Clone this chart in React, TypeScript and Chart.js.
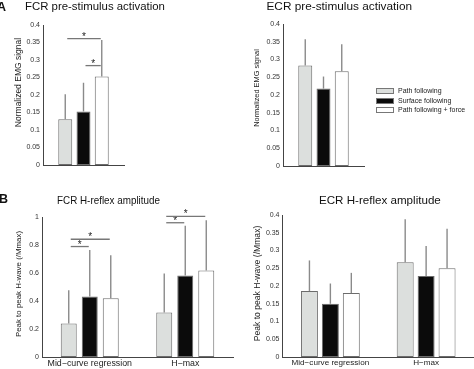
import React, { useEffect, useRef } from "react";
import { Chart, registerables } from "chart.js";

Chart.register(...registerables);
Chart.defaults.font.family = "'Liberation Sans', Arial, Helvetica, sans-serif";

// ---------- DATA ----------
const conditions = ["Path following", "Surface following", "Path following + force"];
const fillColors = ["#dcdfdd", "#0b0b0b", "#ffffff"];

const preCategories = [""];
// FCR pre-stimulus activation (per condition)
const fcrPrePath = [0.131];
const fcrPreSurface = [0.153];
const fcrPreForce = [0.253];
const fcrPrePathErr = [0.202];
const fcrPreSurfaceErr = [0.235];
const fcrPreForceErr = [0.357];

// ECR pre-stimulus activation
const ecrPrePath = [0.283];
const ecrPreSurface = [0.218];
const ecrPreForce = [0.267];
const ecrPrePathErr = [0.357];
const ecrPreSurfaceErr = [0.252];
const ecrPreForceErr = [0.343];

const hCategories = ["Mid\u2212curve regression", "H\u2212max"];
// FCR H-reflex amplitude
const fcrHPath = [0.239, 0.317];
const fcrHSurface = [0.433, 0.583];
const fcrHForce = [0.419, 0.618];
const fcrHPathErr = [0.476, 0.597];
const fcrHSurfaceErr = [0.765, 0.938];
const fcrHForceErr = [0.727, 0.976];

// ECR H-reflex amplitude
const ecrHPath = [0.186, 0.267];
const ecrHSurface = [0.15, 0.228];
const ecrHForce = [0.18, 0.25];
const ecrHPathErr = [0.272, 0.388];
const ecrHSurfaceErr = [0.207, 0.313];
const ecrHForceErr = [0.237, 0.361];

// significance brackets: category index, from condition, to condition, level
type Sig = { cat: number; from: number; to: number; level: number };
const fcrPreSig: Sig[] = [
  { cat: 0, from: 0, to: 2, level: 0.361 },
  { cat: 0, from: 1, to: 2, level: 0.284 },
];
const fcrHSig: Sig[] = [
  { cat: 0, from: 0, to: 1, level: 0.789 },
  { cat: 0, from: 0, to: 2, level: 0.841 },
  { cat: 1, from: 0, to: 1, level: 0.959 },
  { cat: 1, from: 0, to: 2, level: 1.004 },
];

const preYTicks = { max: 0.4, step: 0.05 };
const hFcrYTicks = { max: 1, step: 0.2 };
const hEcrYTicks = { max: 0.4, step: 0.05 };

// ---------- PANEL ----------
type PanelProps = {
  left: number;
  top: number;
  width: number;
  height: number;
  padTop: number;
  padRight: number;
  yWidth: number;
  xHeight: number;
  categories: string[];
  series: number[][];
  errs: number[][];
  sig: Sig[];
  yMax: number;
  yStep: number;
  yTitle: string;
  yTitleFont: number;
  yTitleX: number;
  yTitleY: number;
  tickFont: number;
  xFont: number;
  showX: boolean;
  catPct: number;
  barPct: number;
};

function Panel(p: PanelProps) {
  const ref = useRef<HTMLCanvasElement | null>(null);
  useEffect(() => {
    if (!ref.current) return;
    const overlay = {
      id: "overlay",
      afterDatasetsDraw(chart: any) {
        const ctx = chart.ctx;
        const y = chart.scales.y;
        ctx.save();
        ctx.strokeStyle = "#8a8a8a";
        ctx.lineWidth = 1.4;
        chart.data.datasets.forEach((_ds: any, di: number) => {
          const meta = chart.getDatasetMeta(di);
          meta.data.forEach((el: any, i: number) => {
            const t = y.getPixelForValue(p.errs[di][i]);
            ctx.beginPath();
            ctx.moveTo(el.x, el.y);
            ctx.lineTo(el.x, t);
            ctx.stroke();
          });
        });
        ctx.strokeStyle = "#777";
        ctx.lineWidth = 1.3;
        ctx.fillStyle = "#222";
        ctx.font = "10px 'Liberation Sans', Arial, sans-serif";
        ctx.textAlign = "center";
        ctx.textBaseline = "alphabetic";
        p.sig.forEach((s) => {
          const x1 = chart.getDatasetMeta(s.from).data[s.cat].x + 2;
          const x2 = chart.getDatasetMeta(s.to).data[s.cat].x - 1;
          const yy = y.getPixelForValue(s.level);
          ctx.beginPath();
          ctx.moveTo(x1, yy);
          ctx.lineTo(x2, yy);
          ctx.stroke();
          ctx.fillText("*", (x1 + x2) / 2, yy + 1);
        });
        ctx.restore();
      },
      afterDraw(chart: any) {
        const ctx = chart.ctx;
        ctx.save();
        ctx.translate(p.yTitleX, p.yTitleY);
        ctx.rotate(-Math.PI / 2);
        ctx.fillStyle = "#222";
        ctx.font = `${p.yTitleFont}px 'Liberation Sans', Arial, sans-serif`;
        ctx.textAlign = "center";
        ctx.textBaseline = "middle";
        ctx.fillText(p.yTitle, 0, 0);
        ctx.restore();
      },
    };
    const chart = new Chart(ref.current, {
      type: "bar",
      data: {
        labels: p.categories,
        datasets: conditions.map((c, i) => ({
          label: c,
          data: p.series[i],
          backgroundColor: fillColors[i],
          borderColor: "#6c6c6c",
          borderWidth: 1,
          borderSkipped: false,
          categoryPercentage: p.catPct,
          barPercentage: p.barPct,
        })),
      },
      options: {
        responsive: false,
        animation: false,
        events: [],
        layout: { padding: { top: p.padTop, right: p.padRight, left: 0, bottom: 0 } },
        plugins: { legend: { display: false }, tooltip: { enabled: false } },
        scales: {
          x: {
            grid: { display: false, drawTicks: false },
            border: { display: true, color: "#444", width: 1 },
            ticks: {
              display: p.showX,
              font: { size: p.xFont, lineHeight: 1 },
              color: "#222",
              padding: 2,
              maxRotation: 0,
              autoSkip: false,
            },
            afterFit: (s: any) => {
              s.height = p.xHeight;
            },
          },
          y: {
            min: 0,
            max: p.yMax,
            grid: { display: false, drawTicks: false },
            border: { display: true, color: "#444", width: 1 },
            ticks: {
              stepSize: p.yStep,
              font: { size: p.tickFont },
              color: "#333",
              padding: 3,
              callback: (v: any) => String(Math.round(Number(v) * 100) / 100),
            },
            afterFit: (s: any) => {
              s.width = p.yWidth;
            },
          },
        },
      } as any,
      plugins: [overlay],
    });
    return () => chart.destroy();
  }, []);
  return (
    <canvas
      ref={ref}
      width={p.width}
      height={p.height}
      style={{ position: "absolute", left: p.left, top: p.top, width: p.width, height: p.height }}
    />
  );
}

const titleStyle = (left: number, top: number, size: number, bold = false): React.CSSProperties => ({
  position: "absolute",
  left,
  top,
  fontSize: size,
  lineHeight: 1,
  whiteSpace: "nowrap",
  fontWeight: bold ? "bold" : "normal",
  color: "#111",
});

export default function App() {
  return (
    <div
      style={{
        position: "absolute",
        left: 0,
        top: 0,
        width: 474,
        height: 369,
        background: "#fff",
        overflow: "hidden",
        fontFamily: "'Liberation Sans', Arial, Helvetica, sans-serif",
      }}
    >
      <Panel
        left={0}
        top={0}
        width={240}
        height={185}
        padTop={25}
        padRight={116}
        yWidth={43}
        xHeight={20}
        categories={preCategories}
        series={[fcrPrePath, fcrPreSurface, fcrPreForce]}
        errs={[fcrPrePathErr, fcrPreSurfaceErr, fcrPreForceErr]}
        sig={fcrPreSig}
        yMax={preYTicks.max}
        yStep={preYTicks.step}
        yTitle="Normalized EMG signal"
        yTitleFont={8.5}
        yTitleX={19}
        yTitleY={82.5}
        tickFont={7}
        xFont={9}
        showX={false}
        catPct={0.676}
        barPct={0.765}
      />
      <Panel
        left={240}
        top={0}
        width={234}
        height={185}
        padTop={24}
        padRight={110}
        yWidth={43}
        xHeight={19}
        categories={preCategories}
        series={[ecrPrePath, ecrPreSurface, ecrPreForce]}
        errs={[ecrPrePathErr, ecrPreSurfaceErr, ecrPreForceErr]}
        sig={[]}
        yMax={preYTicks.max}
        yStep={preYTicks.step}
        yTitle="Normalized EMG signal"
        yTitleFont={7.4}
        yTitleX={16.5}
        yTitleY={88}
        tickFont={7}
        xFont={9}
        showX={false}
        catPct={0.676}
        barPct={0.765}
      />
      <Panel
        left={0}
        top={185}
        width={240}
        height={184}
        padTop={32}
        padRight={7}
        yWidth={42}
        xHeight={12}
        categories={hCategories}
        series={[fcrHPath, fcrHSurface, fcrHForce]}
        errs={[fcrHPathErr, fcrHSurfaceErr, fcrHForceErr]}
        sig={fcrHSig}
        yMax={hFcrYTicks.max}
        yStep={hFcrYTicks.step}
        yTitle="Peak to peak H-wave (/Mmax)"
        yTitleFont={7.9}
        yTitleX={19}
        yTitleY={99}
        tickFont={7}
        xFont={8.8}
        showX={true}
        catPct={0.66}
        barPct={0.76}
      />
      <Panel
        left={240}
        top={185}
        width={234}
        height={184}
        padTop={30}
        padRight={0}
        yWidth={42.5}
        xHeight={12}
        categories={hCategories}
        series={[ecrHPath, ecrHSurface, ecrHForce]}
        errs={[ecrHPathErr, ecrHSurfaceErr, ecrHForceErr]}
        sig={[]}
        yMax={hEcrYTicks.max}
        yStep={hEcrYTicks.step}
        yTitle="Peak to peak H-wave (/Mmax)"
        yTitleFont={8.6}
        yTitleX={17.5}
        yTitleY={98.5}
        tickFont={7}
        xFont={8.1}
        showX={true}
        catPct={0.656}
        barPct={0.81}
      />

      <div style={titleStyle(-3, 1, 12.5, true)}>A</div>
      <div style={titleStyle(25, 1.2, 11.4)}>FCR pre-stimulus activation</div>
      <div style={titleStyle(266.5, 1.2, 11.8)}>ECR pre-stimulus activation</div>
      <div style={titleStyle(-1, 193, 12.5, true)}>B</div>
      <div style={{ ...titleStyle(57, 193.5, 11.6), transform: "scaleX(0.85)", transformOrigin: "left top" }}>
        FCR H-reflex amplitude
      </div>
      <div style={titleStyle(319, 193.5, 11.6)}>ECR H-reflex amplitude</div>

      {conditions.map((c, i) => (
        <div key={c} style={{ position: "absolute", left: 376, top: 88 + i * 9.5, height: 7, whiteSpace: "nowrap" }}>
          <div
            style={{
              position: "absolute",
              left: 0,
              top: 0,
              width: 18,
              height: 6,
              background: fillColors[i],
              border: "1px solid #777",
              boxSizing: "border-box",
            }}
          />
          <div style={{ position: "absolute", left: 22, top: -1, fontSize: 7, lineHeight: "8px", color: "#222" }}>{c}</div>
        </div>
      ))}
    </div>
  );
}
